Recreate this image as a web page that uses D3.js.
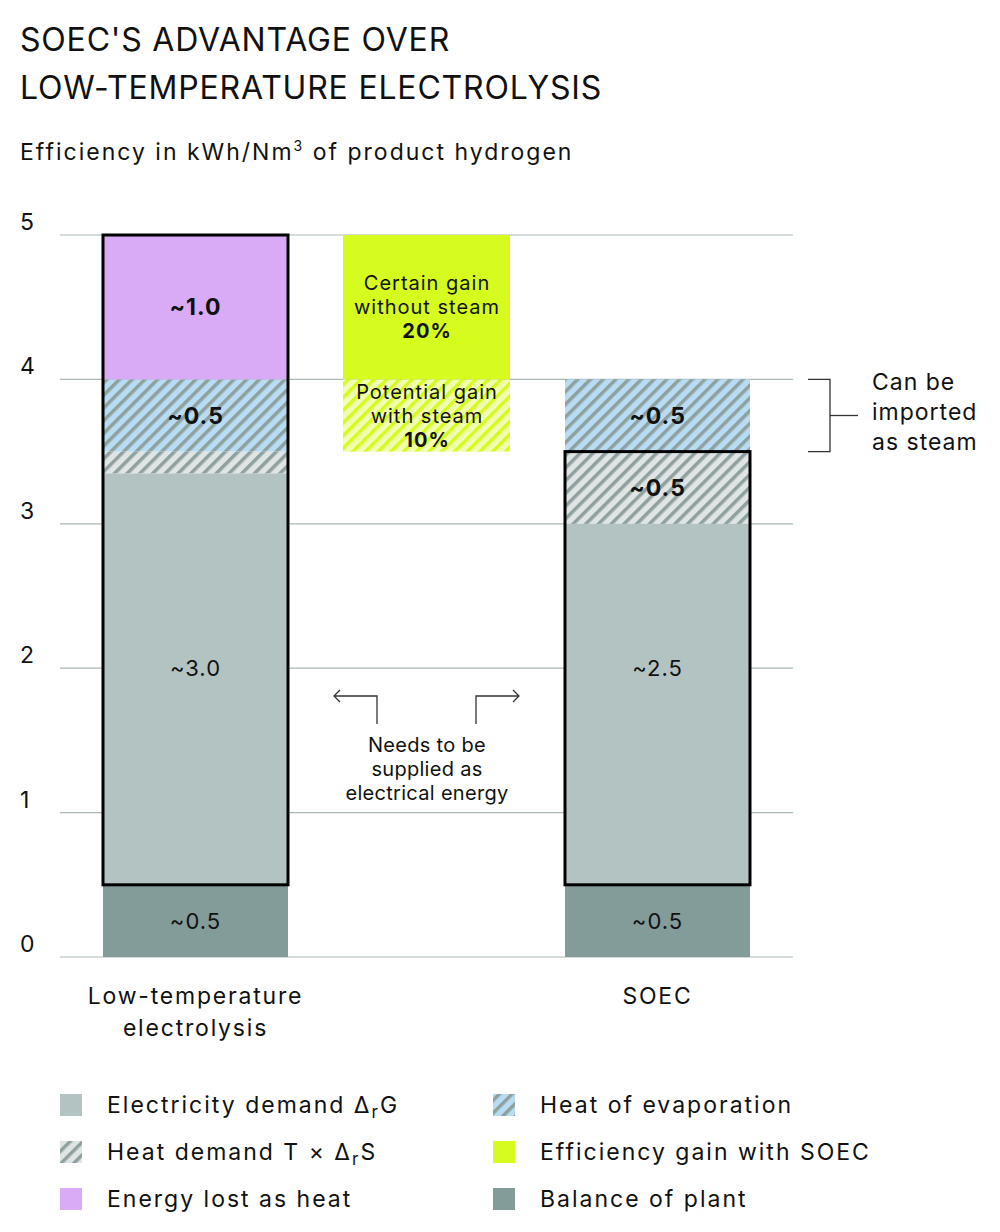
<!DOCTYPE html><html><head><meta charset="utf-8"><script src="https://cdn.jsdelivr.net/npm/d3@7"></script>
<style>body{margin:0;background:#fff}text{font-family:Inter,"Noto Sans",sans-serif;fill:#111;letter-spacing:1px}</style></head><body><svg id="c" width="1000" height="1232"></svg>
<script>
const yTicks=[0,1,2,3,4,5];
const bars=["Low-temperature electrolysis","SOEC"];
const segStart=[0,0.5,3.35,3.5,4.0, 0,0.5,3.0,3.5];
const segEnd  =[0.5,3.35,3.5,4.0,5.0, 0.5,3.0,3.5,4.0];
const segBar  =[0,0,0,0,0, 1,1,1,1];
const segType =["bop","elec","heat","evap","lost","bop","elec","heat","evap"];
const segLabel=["~0.5","~3.0","","~0.5","~1.0","~0.5","~2.5","~0.5","~0.5"];
const segLabelAt=[0.25,2.0,0,3.75,4.5,0.25,2.0,3.25,3.75];
const segBold =[false,false,false,true,true,false,false,true,true];
const outlineBar=[0,1], outlineStart=[0.5,0.5], outlineEnd=[5.0,3.5];
const gainStart=[3.5,4.0], gainEnd=[4.0,5.0], gainType=["gainH","gain"];
const gainText=[["Potential gain","with steam","10%"],["Certain gain","without steam","20%"]];
const legendLabels=["Electricity demand ΔrG","Heat demand T × ΔrS","Energy lost as heat","Heat of evaporation","Efficiency gain with SOEC","Balance of plant"];
const legendTypes=["elec","heat","lost","evap","gain","bop"];

const svg=d3.select("#c");
const y=d3.scaleLinear().domain([0,5]).range([957,235]);
const x=d3.scaleOrdinal().domain(bars).range([103,565]);
const bw=185;
const defs=svg.append("defs");
function hatch(id,bg,fg){const p=defs.append("pattern").attr("id",id).attr("patternUnits","userSpaceOnUse").attr("width",9).attr("height",9).attr("patternTransform","rotate(45)");
p.append("rect").attr("width",9).attr("height",9).attr("fill",bg);p.append("rect").attr("width",3.5).attr("height",9).attr("fill",fg);}
hatch("hHeat","#dfe5e4","#8ea19f");hatch("hEvap","#b7dcf4","#8ea19f");hatch("hGain","#f0ffb0","#d6fb1e");
const fills={bop:"#839b99",elec:"#b3c3c2",heat:"url(#hHeat)",evap:"url(#hEvap)",lost:"#d9aaf6",gain:"#d6fb1e",gainH:"url(#hGain)"};

svg.append("text").attr("x",20).attr("y",51).attr("font-size",32).style("letter-spacing","0.8px").text("SOEC'S ADVANTAGE OVER");
svg.append("text").attr("x",20).attr("y",99).attr("font-size",32).style("letter-spacing","0.8px").text("LOW-TEMPERATURE ELECTROLYSIS");
const st=svg.append("text").attr("x",20).attr("y",160).attr("font-size",23).style("letter-spacing","2px");
st.append("tspan").text("Efficiency in kWh/Nm");st.append("tspan").attr("dy",-9).attr("font-size",14).text("3");st.append("tspan").attr("dy",9).text(" of product hydrogen");

svg.selectAll(".g").data(yTicks).join("line").attr("x1",60).attr("x2",793).attr("y1",d=>y(d)).attr("y2",d=>y(d)).attr("stroke","#a9b9b8").attr("stroke-width",1.2);
svg.selectAll(".t").data(yTicks).join("text").attr("x",20).attr("y",d=>y(d)-5).attr("font-size",23).text(d=>d);

segStart.forEach((s,i)=>{
  const bx=x(bars[segBar[i]]);
  svg.append("rect").attr("x",bx).attr("width",bw).attr("y",y(segEnd[i])).attr("height",y(s)-y(segEnd[i])).attr("fill",fills[segType[i]]);
  if(segLabel[i]) svg.append("text").attr("x",bx+bw/2).attr("y",y(segLabelAt[i])+8).attr("text-anchor","middle").attr("font-size",segBold[i]?23:22).attr("font-weight",segBold[i]?700:400).text(segLabel[i]);
});
gainStart.forEach((s,i)=>{
  svg.append("rect").attr("x",343).attr("width",167).attr("y",y(gainEnd[i])).attr("height",y(s)-y(gainEnd[i])).attr("fill",fills[gainType[i]]);
  const top=i==1?290:399;
  gainText[i].forEach((t,j)=>svg.append("text").attr("x",427).attr("y",top+j*24).attr("text-anchor","middle").attr("font-size",20).attr("font-weight",j==2?700:400).text(t));
});
outlineBar.forEach((b,i)=>svg.append("rect").attr("x",x(bars[b])).attr("width",bw).attr("y",y(outlineEnd[i])).attr("height",y(outlineStart[i])-y(outlineEnd[i])).attr("fill","none").attr("stroke","#000").attr("stroke-width",3));

svg.append("text").attr("x",x(bars[0])+bw/2).attr("y",1004).attr("text-anchor","middle").attr("font-size",23).style("letter-spacing","1.8px").text("Low-temperature");
svg.append("text").attr("x",x(bars[0])+bw/2).attr("y",1036).attr("text-anchor","middle").attr("font-size",23).style("letter-spacing","1.8px").text("electrolysis");
svg.append("text").attr("x",x(bars[1])+bw/2).attr("y",1004).attr("text-anchor","middle").attr("font-size",23).style("letter-spacing","1.8px").text("SOEC");

const ln=(d)=>svg.append("path").attr("d",d).attr("fill","none").attr("stroke","#333").attr("stroke-width",1.3);
ln("M377,724V696H334");ln("M340,690L334,696L340,702");
ln("M476,724V696H519");ln("M513,690L519,696L513,702");
["Needs to be","supplied as","electrical energy"].forEach((t,j)=>svg.append("text").attr("x",427).attr("y",752+j*24).attr("text-anchor","middle").attr("font-size",20).style("letter-spacing","0.3px").text(t));

ln(`M808,${y(4)}H830V${y(3.5)}H808`);ln(`M830,${(y(4)+y(3.5))/2}H858`);
["Can be","imported","as steam"].forEach((t,j)=>svg.append("text").attr("x",872).attr("y",390+j*30).attr("font-size",23).text(t));

legendLabels.forEach((l,i)=>{
  const col=Math.floor(i/3),row=i%3;const lx=60+col*433,ly=1094+row*47;
  svg.append("rect").attr("x",lx).attr("y",ly).attr("width",22).attr("height",22).attr("fill",fills[legendTypes[i]]);
  const t=svg.append("text").attr("x",lx+47).attr("y",ly+19).attr("font-size",23).style("letter-spacing","2px");
  const m=l.match(/^(.*Δ)r(.*)$/);
  if(m){t.append("tspan").text(m[1]);t.append("tspan").attr("font-size",17).attr("dy",5).text("r");t.append("tspan").attr("dy",-5).text(m[2]);}else t.text(l);
});
</script></body></html>
